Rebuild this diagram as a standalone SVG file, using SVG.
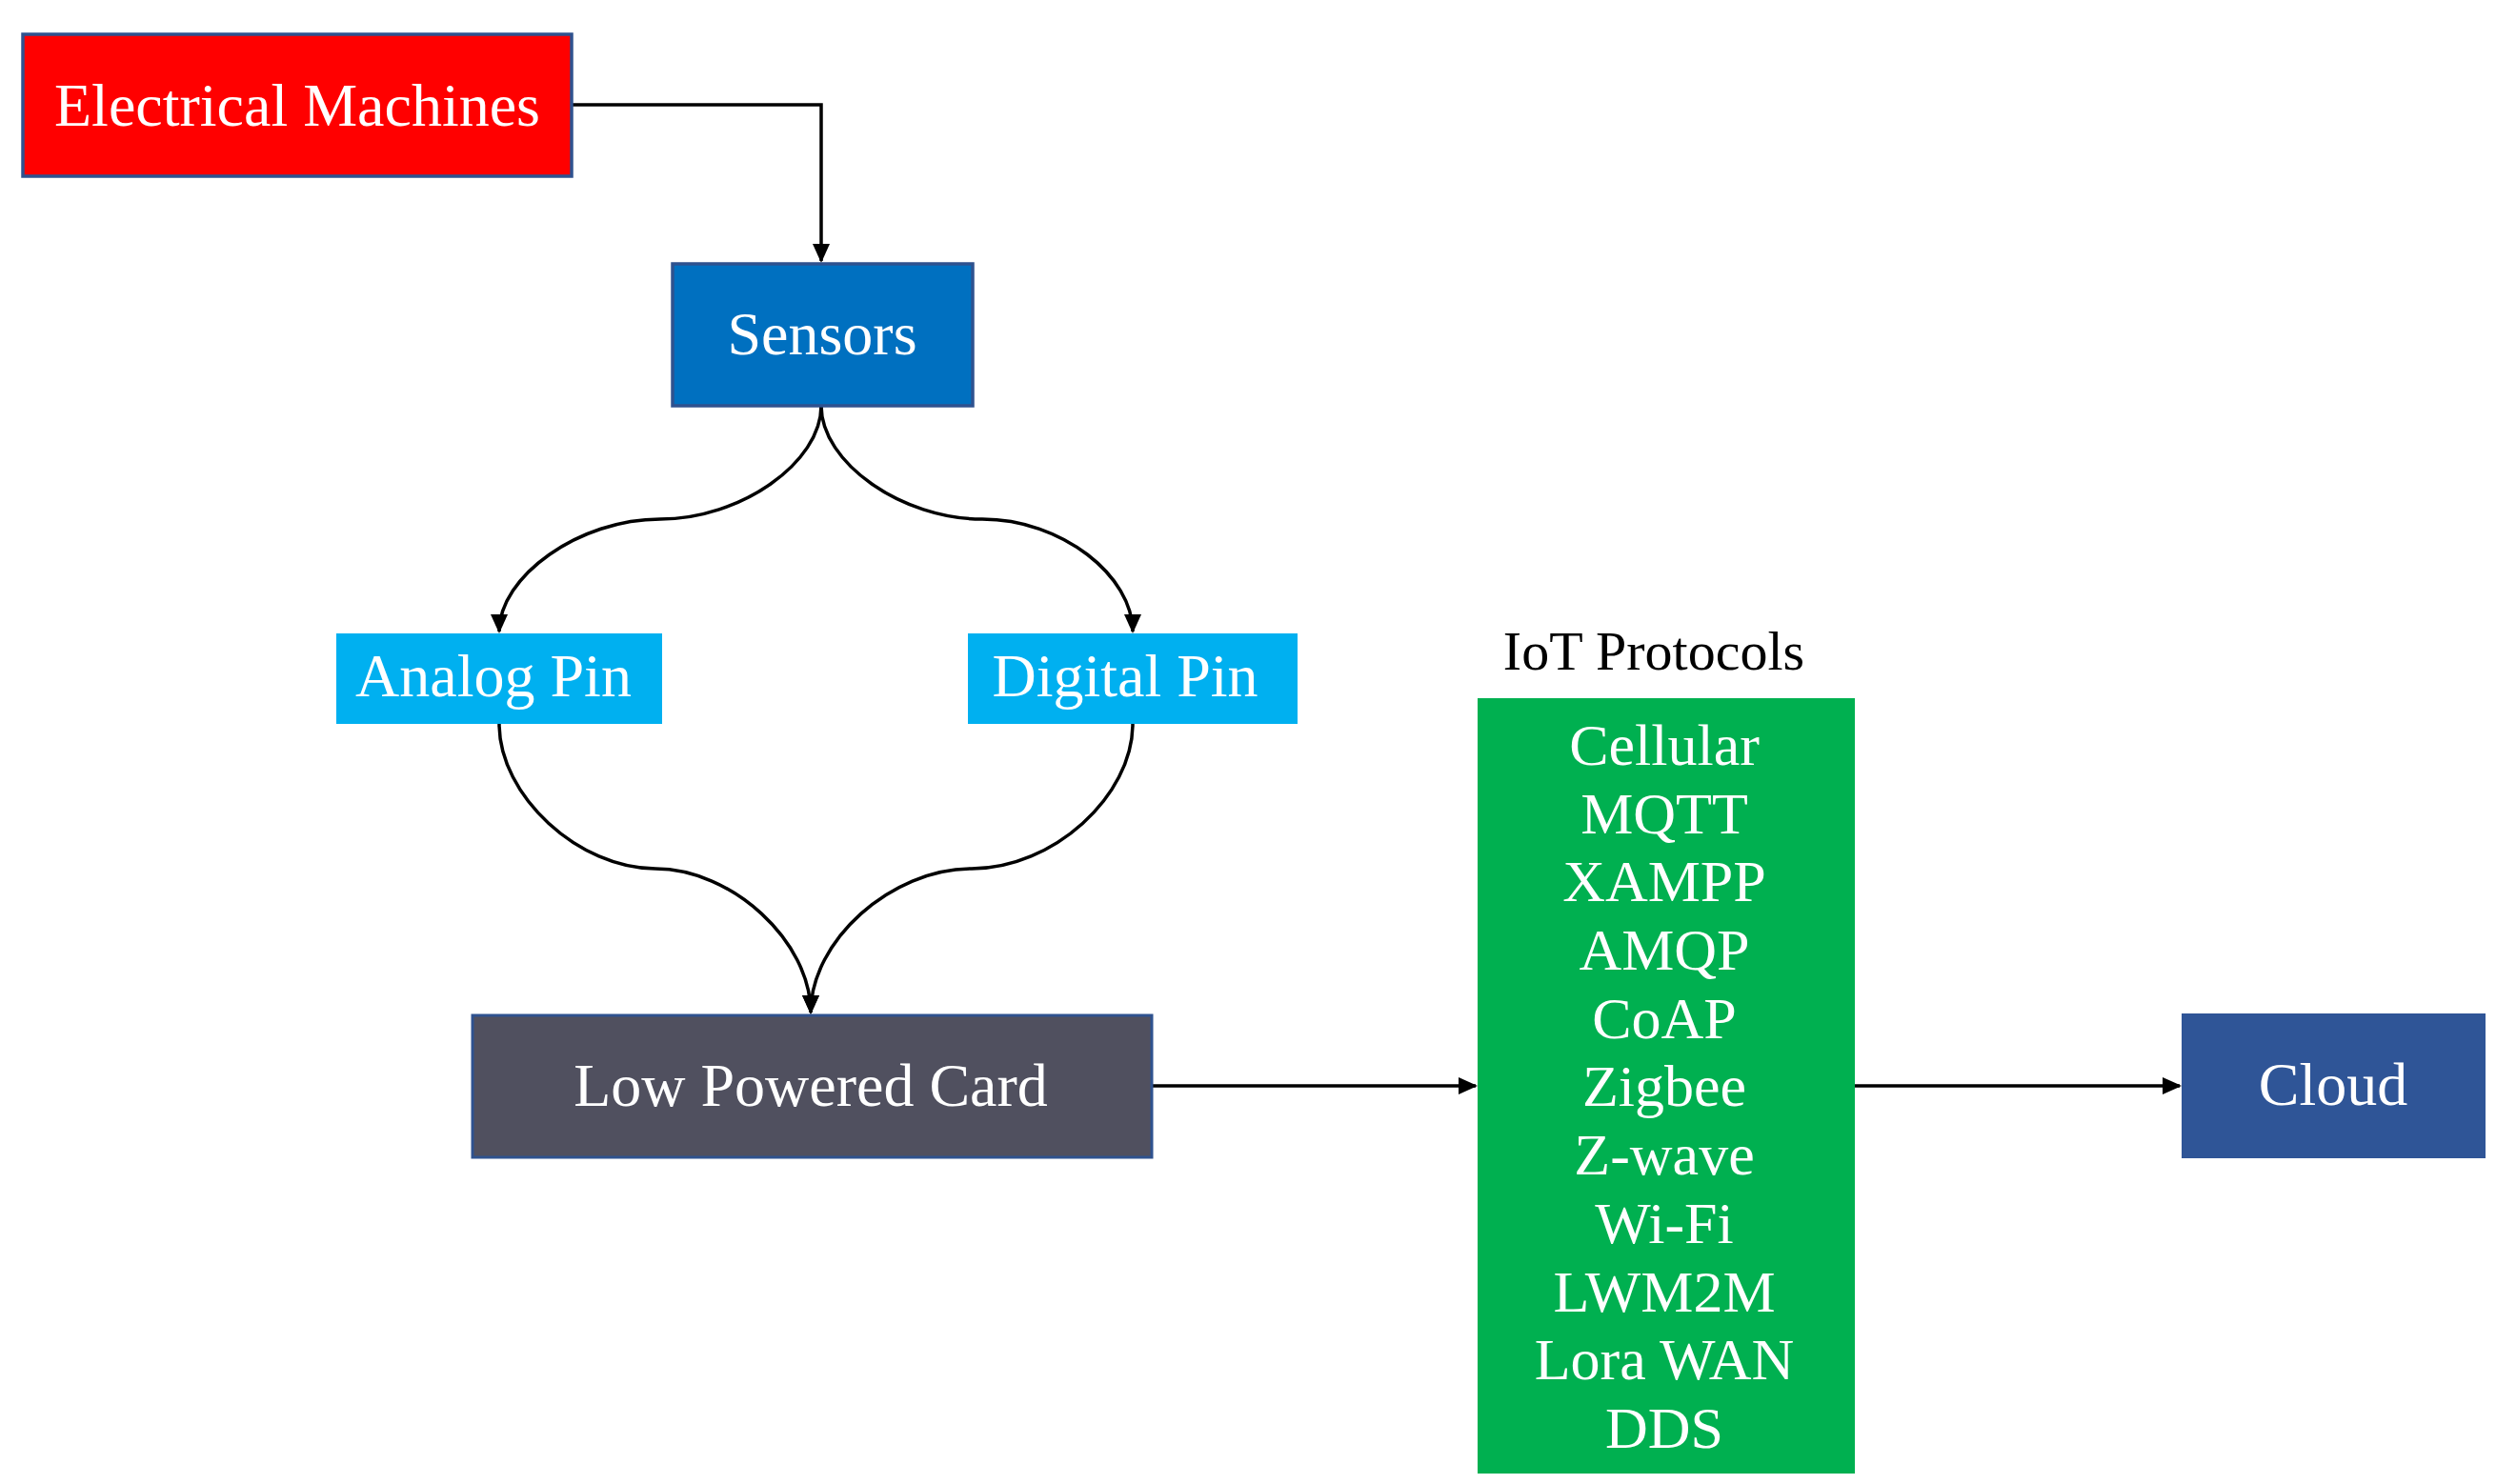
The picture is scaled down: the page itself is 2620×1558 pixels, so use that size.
<svg xmlns="http://www.w3.org/2000/svg" width="2620" height="1558" viewBox="0 0 2620 1558">
<style>
.lbl{font-family:"Liberation Serif","Times New Roman",serif;font-size:64px;fill:#ffffff;text-anchor:middle}
.proto{font-family:"Liberation Serif","Times New Roman",serif;font-size:62px;fill:#ffffff;text-anchor:middle}
.title{font-family:"Liberation Serif","Times New Roman",serif;font-size:58px;fill:#000000;text-anchor:middle}
.edge{fill:none;stroke:#000000;stroke-width:3.5;marker-end:url(#arr)}
</style>
<defs>
<marker id="arr" markerUnits="userSpaceOnUse" markerWidth="20" markerHeight="18" refX="18" refY="9" orient="auto">
<path d="M0,0 L20,9 L0,18 z" fill="#000000"/>
</marker>
</defs>
<rect width="2620" height="1558" fill="#ffffff"/>
<g id="connectors">
<path class="edge" d="M600,110 H862 V274"/>
<path class="edge" d="M862,426 C862,486 777,545 693,545 C608,545 524,605 524,663"/>
<path class="edge" d="M862,426 C862,486 947,545 1031,545 C1115,545 1189,605 1189,663"/>
<path class="edge" d="M524,760 C524,836 608,912 688,912 C768,912 851,988 851,1063"/>
<path class="edge" d="M1189,760 C1189,836 1105,912 1020,912 C935,912 851,988 851,1063"/>
<path class="edge" d="M1209,1140 H1549"/>
<path class="edge" d="M1947,1140 H2288"/>
</g>
<g id="electrical-machines">
<rect x="24" y="36" width="576" height="149" fill="#ff0000" stroke="#2f528f" stroke-width="3.5"/>
<text class="lbl" x="312" y="132">Electrical Machines</text>
</g>
<g id="sensors">
<rect x="706" y="277" width="315" height="149" fill="#0070c0" stroke="#2f528f" stroke-width="3.5"/>
<text class="lbl" x="863" y="372">Sensors</text>
</g>
<g id="analog-pin">
<rect x="353" y="665" width="342" height="95" fill="#00b0f0"/>
<text class="lbl" x="518" y="731">Analog Pin</text>
</g>
<g id="digital-pin">
<rect x="1016" y="665" width="346" height="95" fill="#00b0f0"/>
<text class="lbl" x="1181" y="731">Digital Pin</text>
</g>
<g id="low-powered-card">
<rect x="496" y="1066" width="713" height="149" fill="#50505f" stroke="#2f528f" stroke-width="3"/>
<text class="lbl" x="851" y="1161">Low Powered Card</text>
</g>
<g id="iot-protocols">
<text class="title" x="1736" y="703">IoT Protocols</text>
<rect x="1551" y="733" width="396" height="814" fill="#00b050"/>
<text class="proto" x="1747" y="803">Cellular</text>
<text class="proto" x="1747" y="875">MQTT</text>
<text class="proto" x="1747" y="946">XAMPP</text>
<text class="proto" x="1747" y="1018">AMQP</text>
<text class="proto" x="1747" y="1090">CoAP</text>
<text class="proto" x="1747" y="1161">Zigbee</text>
<text class="proto" x="1747" y="1233">Z-wave</text>
<text class="proto" x="1747" y="1305">Wi-Fi</text>
<text class="proto" x="1747" y="1377">LWM2M</text>
<text class="proto" x="1747" y="1448">Lora WAN</text>
<text class="proto" x="1747" y="1520">DDS</text>
</g>
<g id="cloud">
<rect x="2290" y="1064" width="319" height="152" fill="#2f5597"/>
<text class="lbl" x="2449" y="1160">Cloud</text>
</g>
</svg>
